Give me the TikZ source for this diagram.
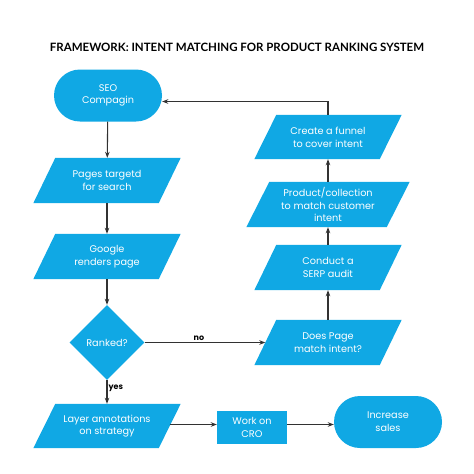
\documentclass[tikz,border=0pt]{standalone}
\usepackage{fontspec}
\setmainfont{Poppins}
\newfontfamily\titlefont{Lato}
\usetikzlibrary{shapes.geometric,shapes.misc,arrows.meta,calc,backgrounds}
\definecolor{flowblue}{RGB}{16,168,228}
\definecolor{linegray}{RGB}{50,50,50}
\newcommand{\paraFill}[2]{%
  \fill[flowblue] ($(#1.north west)+(#2,0)$) -- ($(#1.north east)+(#2,0)$) --
    ($(#1.south east)+(-#2,0)$) -- ($(#1.south west)+(-#2,0)$) -- cycle;}
\begin{document}
\begin{tikzpicture}[x=1pt,y=-1pt,
  base/.style={fill=flowblue,draw=none,text=white,font=\fontsize{9.7}{12.7}\selectfont,align=center,inner sep=0pt},
  term/.style={base,rounded rectangle,minimum width=108pt,minimum height=52pt},
  io/.style={base,fill=none,rectangle,minimum width=125pt,minimum height=45pt},
  proc/.style={base,rectangle,minimum width=70pt,minimum height=33pt},
  decide/.style={base,diamond,minimum width=75pt,minimum height=75pt},
  conn/.style={draw=linegray,line width=1.1pt,-{Stealth[length=6pt,width=4.5pt]}},
  lbl/.style={font=\fontsize{8}{9}\selectfont\bfseries,text=black,inner sep=1pt}]
\path[use as bounding box] (0,0) rectangle (474,474);
\node[font=\titlefont\bfseries\fontsize{11.5}{13}\selectfont] (title) at (237,47) {FRAMEWORK: INTENT MATCHING FOR PRODUCT RANKING SYSTEM};
\node[term] (seo) at (108,95.5) {SEO\\Compagin};
\node[io] (pages) at (107,180.5) {Pages targetd\\for search};
\node[io] (google) at (107,256.5) {Google\\renders page};
\node[decide] (ranked) at (107,342.5) {Ranked?};
\node[io,minimum height=44pt] (layer) at (107,426) {Layer annotations\\on strategy};
\node[proc] (cro) at (252,427.5) {Work on\\CRO};
\node[term] (sales) at (388,422) {Increase\\sales};
\node[io] (match) at (328,342.5) {Does Page\\match intent?};
\node[io] (serp) at (328,267.5) {Conduct a\\SERP audit};
\node[io,minimum width=140pt] (product) at (328,204.5) {Product/collection\\to match customer\\intent};
\node[io,minimum height=44pt] (funnel) at (328,137) {Create a funnel\\to cover intent};
\begin{scope}[on background layer]
  \fill[white] (0,0) rectangle (474,474);
  \paraFill{pages}{11}
  \paraFill{google}{11}
  \paraFill{layer}{11}
  \paraFill{match}{11}
  \paraFill{serp}{11}
  \paraFill{product}{11.5}
  \paraFill{funnel}{11}
\end{scope}
\draw[conn] (seo) -- (pages);
\draw[conn] (pages) -- (google);
\draw[conn] (google) -- (ranked);
\draw[conn] (ranked) -- node[lbl,right,pos=0.35] {yes} (layer);
\draw[conn] (ranked) -- node[lbl,above,pos=0.45] {no} (match.west);
\draw[conn] (match) -- (serp);
\draw[conn] (serp) -- (product);
\draw[conn] (product) -- (funnel);
\draw[conn] (funnel.north) |- ($(seo.east)+(0,6)$);
\draw[conn] ($(layer.east)+(0,-1.5)$) -- ($(layer.east -| cro.west)+(0,-1.5)$);
\draw[conn] ($(cro.east)+(0,-3)$) -- ($(cro.east -| sales.west)+(0,-3)$);
\end{tikzpicture}
\end{document}
